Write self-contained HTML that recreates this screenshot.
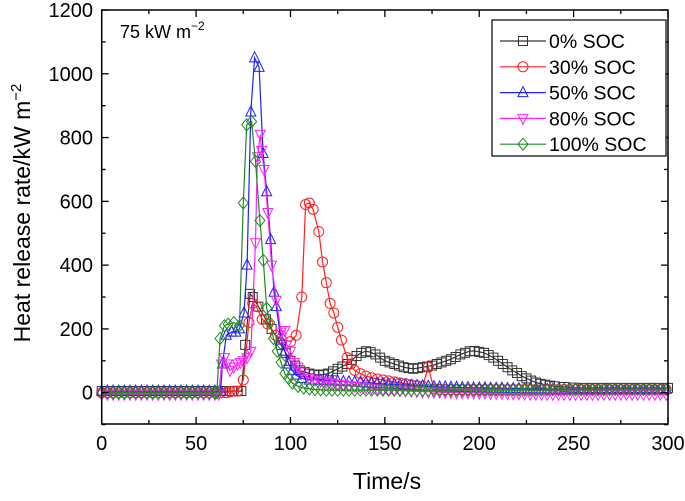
<!DOCTYPE html>
<html><head><meta charset="utf-8"><style>
html,body{margin:0;padding:0;background:#fff;}
svg text{font-family:"Liberation Sans",Arial,sans-serif;fill:#000;}
</style></head><body>
<svg id="c" width="685" height="496" viewBox="0 0 685 496">
<g id="plot"></g>
<rect x="101.7" y="10" width="566.3" height="414" fill="none" stroke="#000" stroke-width="1.5"/>
<g id="axes"></g>
<text x="120" y="38" font-size="18">75 kW m<tspan dy="-8" font-size="12">−2</tspan></text>
<text x="387" y="489" font-size="23" text-anchor="middle">Time/s</text>
<text transform="translate(30,213) rotate(-90)" font-size="23" text-anchor="middle">Heat release rate/kW m<tspan dy="-9" font-size="15">−2</tspan></text>
<g id="legend"></g>
</svg>
<script>
const xTicks=[0,50,100,150,200,250,300];
const yTicks=[0,200,400,600,800,1000,1200];
const seriesNames=["0% SOC","30% SOC","50% SOC","80% SOC","100% SOC"];
const seriesColors=["#333333","#ff2020","#2020ff","#ff20ff","#208a20"];
const seriesMarkers=["square","circle","triangle","tridown","diamond"];
const tTail=[110,113,116,119,122,125,128,131,134,137,140,143,146,149,152,155,158,161,164,167,170,173,176,179,182,185,188,191,194,197,200,203,206,209,212,215,218,221,224,227,230,233,236,239,242,245,248,251,254,257,260,263,266,269,272,275,278,281,284,287,290,293,296,299];
const t0=[0,3,6,9,12,15,18,21,24,27,30,33,36,39,42,45,48,51,54,57,60,63,66,69,72,74,76,78.6,80,83,87,90,95,97.5,100,102.5,105,107.5,110,112.5,115,117.5,120,122.5,125,127.5,130,132.5,135,137.5,140,142.5,145,147.5,150,152.5,155,157.5,160,162.5,165,167.5,170,172.5,175,177.5,180,182.5,185,187.5,190,192.5,195,197.5,200,202.5,205,207.5,210,212.5,215,217.5,220,222.5,225,227.5,230,232.5,235,237.5,240,245,250,255,260,265,270,275,280,285,290,295,300];
const v0=[5,5,5,5,5,5,5,5,5,5,5,5,5,5,5,5,5,5,5,5,5,5,5,5,5,5,150,310,300,270,230,200,150,125,100,85,70,65,60,57,55,57,60,67,75,82,90,103,115,125,130,127,120,110,100,95,90,85,80,77,75,77,80,82,85,90,95,100,105,112,120,125,130,131,128,125,118,110,100,90,80,70,62,52,45,38,32,28,25,22,20,18,16,15,15,15,15,15,15,15,15,15,15];
const t1h=[0,3,6,9,12,15,18,21,24,27,30,33,36,39,42,45,48,51,54,57,60,63,66,68,70,72,75,78,80,82,85,88,92,95,100,103,106,108,110,112,115,117,119,121,123,125,127,130,132];
const v1h=[0,0,0,0,0,0,0,0,0,0,0,0,0,0,0,0,0,0,0,0,0,0,0,3,5,5,40,220,280,270,230,215,180,170,160,180,300,590,595,575,505,410,345,280,250,205,165,110,90];
const v1t=[70,60,52,47,43,40,37,34,31,28,25,22,20,80,12,11,10,10,10,10,10,10,10,10,10,10,10,10,10,10,10,10,10,10,10,10,10,10,10,10,10,10,10,10,10,10,10,10,10,10,10,10,10,10,10,10];
const t2h=[0,3,6,9,12,15,18,21,24,27,30,33,36,39,42,45,48,51,54,57,60,63,64,66,68.8,71,73,75.4,77,79,81,83.4,85.5,87.4,89.5,91.3,92.5,95,97,99,101,103,106];
const v2h=[5,5,5,5,5,5,5,5,5,5,5,5,5,5,5,5,5,5,5,5,5,5,90,180,190,190,200,250,400,880,1050,1020,750,630,480,315,270,165,130,90,70,55,45];
const v2t=[40,40,39,38,37,36,35,34,33,32,31,30,29,28,27,26,25,24,23,22,21,20,19,18,18,17,17,16,16,15,15,15,14,14,14,13,13,13,12,12,12,12,11,11,11,11,11,11,10,10,10,10,10,10,10,10,10,10,10,10,10,10,10,10];
const t3h=[0,3,6,9,12,15,18,21,24,27,30,33,36,39,42,45,48,51,54,57,60,62,63.5,65,66.5,68,70,72,73.5,75,77,79,81.5,82.5,84,84.7,86,88,90,92.5,95,97,98,100,102,104,106];
const v3h=[-5,-5,-5,-5,-5,-5,-5,-5,-5,-5,-5,-5,-5,-5,-5,-5,-5,-5,-5,-5,-5,-5,90,110,90,70,80,90,95,100,110,130,470,740,810,760,700,565,400,290,190,195,150,130,95,80,65];
const v3t=[45,40,36,33,30,27,25,22,20,18,16,14,12,10,9,8,7,6,5,4,3,3,2,2,1,1,0,0,0,0,-1,-1,-2,-2,-2,-3,-3,-3,-4,-4,-4,-5,-5,-5,-5,-5,-5,-5,-5,-5,-5,-5,-5,-5,-5,-5,-5,-5,-5,-5,-5,-5,-5,-5];
const t4h=[0,3,6,9,12,15,18,21,24,27,30,33,36,39,42,45,48,51,54,57,60,61,62.7,65,67,70,73,75,76.8,79.4,81.5,83.8,85.6,87.4,89,91,93,95,97,99,101,104,107];
const v4h=[0,0,0,0,0,0,0,0,0,0,0,0,0,0,0,0,0,0,0,0,0,0,170,210,215,220,210,595,840,850,725,540,415,265,220,170,130,95,60,45,30,20,15];
const v4t=[12,10,9,8,8,8,8,8,8,8,8,8,8,8,8,8,8,8,8,8,8,8,8,8,8,8,8,8,8,8,8,8,8,8,8,8,8,8,8,8,8,8,8,9,9,9,9,9,9,9,9,9,9,10,10,10,10,10,10,10,10,10,10,10];
const seriesT=[t0,t1h.concat(tTail.slice(8)),t2h.concat(tTail),t3h.concat(tTail),t4h.concat(tTail)];
const seriesV=[v0,v1h.concat(v1t),v2h.concat(v2t),v3h.concat(v3t),v4h.concat(v4t)];

const X0=101.7,X1=668,Y0=392.7,YT=10;
function xs(t){return X0+(X1-X0)*t/300;}
function ys(v){return Y0-(Y0-YT)*v/1200;}
const NS="http://www.w3.org/2000/svg";
function mk(tag,at,parent){const e=document.createElementNS(NS,tag);for(const k in at)e.setAttribute(k,at[k]);parent.appendChild(e);return e;}
function marker(kind,x,y,col,parent){
  const s=5;let e;
  if(kind==="square")e=mk("rect",{x:x-s+0.5,y:y-s+0.5,width:2*s-1,height:2*s-1},parent);
  else if(kind==="circle")e=mk("circle",{cx:x,cy:y,r:s},parent);
  else if(kind==="triangle")e=mk("polygon",{points:`${x},${y-s-1} ${x-s},${y+s-1} ${x+s},${y+s-1}`},parent);
  else if(kind==="tridown")e=mk("polygon",{points:`${x},${y+s+1} ${x-s},${y-s+1} ${x+s},${y-s+1}`},parent);
  else e=mk("polygon",{points:`${x},${y-s-1} ${x+s},${y} ${x},${y+s+1} ${x-s},${y}`},parent);
  e.setAttribute("fill","none");e.setAttribute("stroke",col);e.setAttribute("stroke-width","1");
  return e;
}
const plot=document.getElementById("plot");
for(let i=0;i<5;i++){
  const g=mk("g",{},plot);
  
  
  const T=seriesT[i],V=seriesV[i];
  const pts=T.map((t,j)=>xs(t).toFixed(1)+","+ys(V[j]).toFixed(1)).join(" ");
  mk("polyline",{points:pts,fill:"none",stroke:seriesColors[i],"stroke-width":1.2},g);
  for(let j=0;j<T.length;j++){
    const m=marker(seriesMarkers[i],xs(T[j]),ys(V[j]),seriesColors[i],g);
    
    
  }
}
const axes=document.getElementById("axes");
for(let t=0;t<=300;t+=25){
  const major=t%50===0,L=major?7:4;
  mk("line",{x1:xs(t),x2:xs(t),y1:424,y2:424-L,stroke:"#000","stroke-width":1.3},axes);
  mk("line",{x1:xs(t),x2:xs(t),y1:10,y2:10+L,stroke:"#000","stroke-width":1.3},axes);
}
xTicks.forEach(t=>{
  const e=mk("text",{x:xs(t),y:450,"font-size":20,"text-anchor":"middle"},axes);e.textContent=t;
  
  
});
for(let v=-100;v<=1200;v+=100){
  const major=v%200===0,L=major?7:4;
  mk("line",{x1:X0,x2:X0+L,y1:ys(v),y2:ys(v),stroke:"#000","stroke-width":1.3},axes);
  mk("line",{x1:X1,x2:X1-L,y1:ys(v),y2:ys(v),stroke:"#000","stroke-width":1.3},axes);
}
yTicks.forEach(v=>{
  const e=mk("text",{x:93,y:ys(v)+7,"font-size":20,"text-anchor":"end"},axes);e.textContent=v;
  
  
});
const lg=document.getElementById("legend");


mk("rect",{x:492,y:20,width:174,height:136,fill:"#fff",stroke:"#000","stroke-width":1.2},lg);
for(let i=0;i<5;i++){
  const y=41+i*25.8;
  const g=mk("g",{},lg);
  
  
  mk("line",{x1:500,x2:546,y1:y,y2:y,stroke:seriesColors[i],"stroke-width":1.2},g);
  marker(seriesMarkers[i],523,y,seriesColors[i],g);
  const e=mk("text",{x:549,y:y+7,"font-size":19.5},g);e.textContent=seriesNames[i];
}
</script>
</body></html>
